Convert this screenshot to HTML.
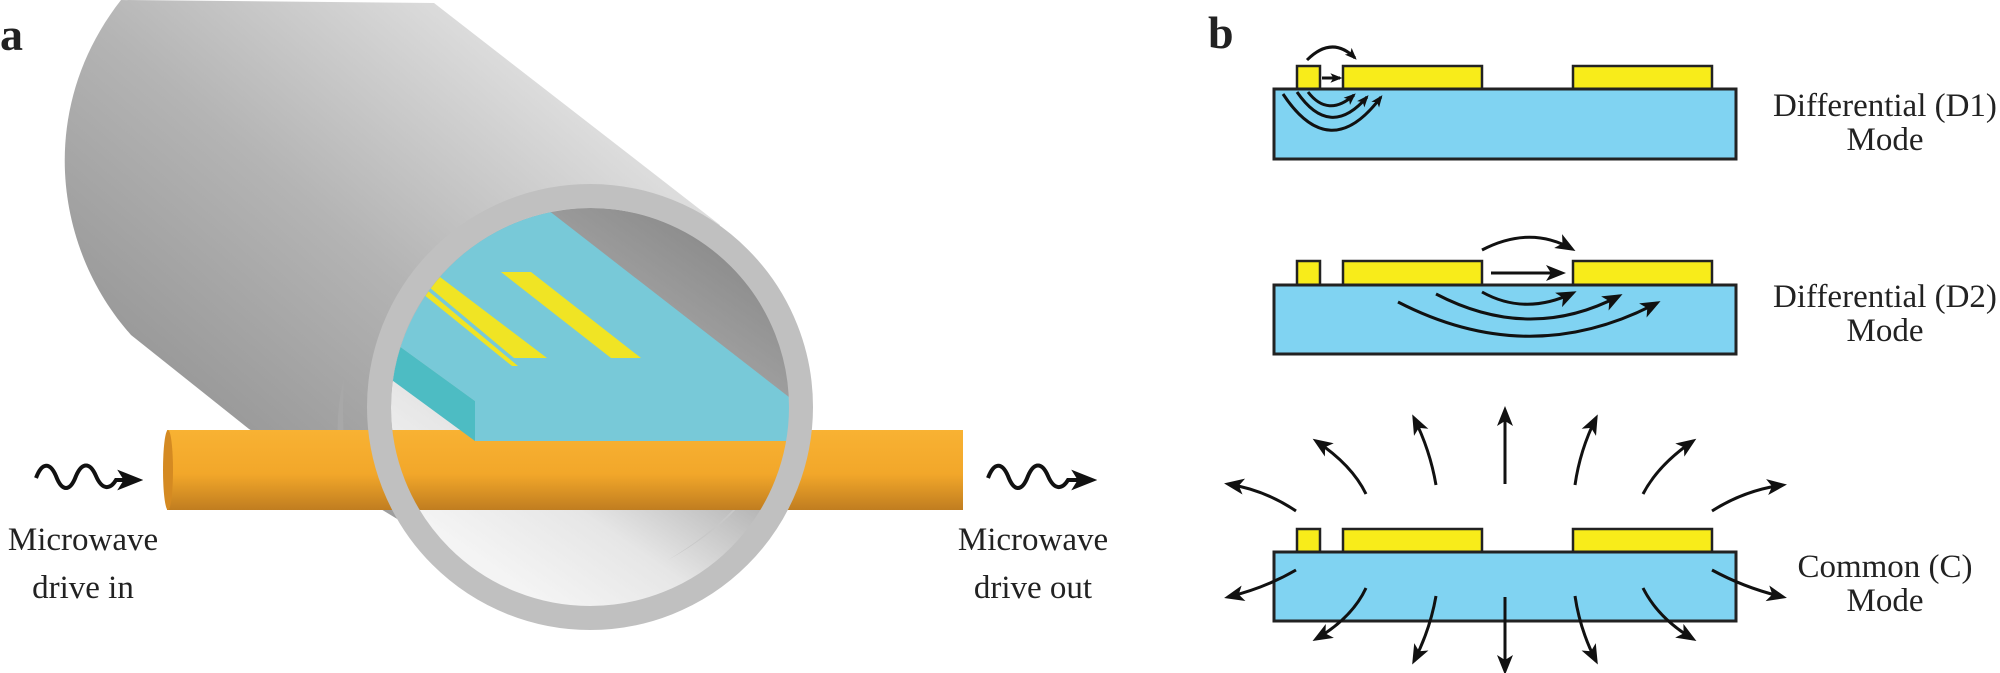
<!DOCTYPE html>
<html><head><meta charset="utf-8"><style>
html,body{margin:0;padding:0;background:#fff;}
svg{display:block;}
</style></head><body>
<svg width="2000" height="673" viewBox="0 0 2000 673" xmlns="http://www.w3.org/2000/svg">
<defs>
<linearGradient id="body" x1="0.1" y1="0.9" x2="0.9" y2="0.1">
<stop offset="0" stop-color="#8c8c8c"/><stop offset="0.5" stop-color="#b4b4b4"/><stop offset="1" stop-color="#ececec"/></linearGradient>
<linearGradient id="inner" x1="0.8" y1="0.1" x2="0.25" y2="0.9">
<stop offset="0" stop-color="#8e8e8e"/><stop offset="0.45" stop-color="#b0b0b0"/><stop offset="0.75" stop-color="#e6e6e6"/><stop offset="1" stop-color="#f4f4f4"/></linearGradient>
<linearGradient id="rod" x1="0" y1="0" x2="0" y2="1">
<stop offset="0" stop-color="#f8b233"/><stop offset="0.55" stop-color="#f2a72a"/><stop offset="1" stop-color="#c07d20"/></linearGradient>
<clipPath id="ic"><circle cx="591" cy="408" r="200"/></clipPath>
<marker id="ah" viewBox="0 0 20 20" refX="16" refY="10" markerWidth="20" markerHeight="20" markerUnits="userSpaceOnUse" orient="auto">
<path d="M0,2 L20,10 L0,18 L5,10 Z" fill="#111"/></marker>
<marker id="aw" viewBox="0 0 20 20" refX="16" refY="10" markerWidth="26" markerHeight="26" markerUnits="userSpaceOnUse" orient="auto">
<path d="M0,2 L20,10 L0,18 L5,10 Z" fill="#111"/></marker>
<marker id="as" viewBox="0 0 20 20" refX="16" refY="10" markerWidth="12" markerHeight="12" markerUnits="userSpaceOnUse" orient="auto">
<path d="M0,2 L20,10 L0,18 L5,10 Z" fill="#111"/></marker>
</defs>

<g font-family="'Liberation Serif','DejaVu Serif',serif" fill="#222">
<text x="0" y="50" font-size="46" font-weight="bold">a</text>
<path d="M121,0 L434,3 L720,225 L620,420 L440,545 L249,429 L131,335 C55,250 35,110 121,0 Z" fill="url(#body)"/>
<circle cx="591" cy="408" r="200" fill="url(#inner)"/>
<path d="M344,378 Q328,440 352,506 Q340,440 344,378 Z" fill="#a8a8a8"/>
<path d="M668,560 Q740,520 768,465 Q735,520 668,560 Z" fill="#c8c8c8"/>
<rect x="167" y="430" width="796" height="80" fill="url(#rod)"/>
<ellipse cx="168" cy="470" rx="5" ry="40" fill="#d48a22"/>
<g clip-path="url(#ic)">
<path d="M548,210 L794,401 L475,401 L395,343 L380,250 L500,190 Z" fill="#78c9d8"/>
<path d="M395,343 L475,401 L475,441 L385,375 Z" fill="#4dbcc3"/>
<path d="M501,272 L531,272 L641,358 L611,358 Z" fill="#f0e424"/>
<path d="M429,287 L440,277 L547,358 L514,358 Z" fill="#f0e424"/>
<path d="M423,294 L427,290 L518,366 L512,366 Z" fill="#f0e424"/>
</g>
<rect x="475" y="401" width="319" height="40" fill="#78c9d8"/>
<circle cx="590" cy="407" r="211" fill="none" stroke="#c0c0c0" stroke-width="24"/>
<path d="M36,478 C42,462 50,462 56,476 C62,492 70,492 76,476 C82,462 90,462 96,476 C102,490 110,490 116,480 L138,480" fill="none" stroke="#111" stroke-width="4" marker-end="url(#aw)"/>
<path d="M988,478 C994,462 1002,462 1008,476 C1014,492 1022,492 1028,476 C1034,462 1042,462 1048,476 C1054,490 1062,490 1068,480 L1092,480" fill="none" stroke="#111" stroke-width="4" marker-end="url(#aw)"/>
<text x="83" y="550" font-size="33" text-anchor="middle">Microwave</text>
<text x="83" y="598" font-size="33" text-anchor="middle">drive in</text>
<text x="1033" y="550" font-size="33" text-anchor="middle">Microwave</text>
<text x="1033" y="598" font-size="33" text-anchor="middle">drive out</text>

<text x="1208" y="48" font-size="46" font-weight="bold">b</text>
<g fill="#f8ec1a" stroke="#222" stroke-width="2.5">
<rect x="1297" y="66" width="23" height="23"/><rect x="1343" y="66" width="139" height="23"/><rect x="1573" y="66" width="139" height="23"/>
<rect x="1297" y="261" width="23" height="24"/><rect x="1343" y="261" width="139" height="24"/><rect x="1573" y="261" width="139" height="24"/>
<rect x="1297" y="529" width="23" height="23"/><rect x="1343" y="529" width="139" height="23"/><rect x="1573" y="529" width="139" height="23"/>
</g>
<g fill="#80d3f2" stroke="#222" stroke-width="3">
<rect x="1274" y="89" width="462" height="70"/>
<rect x="1274" y="285" width="462" height="69"/>
<rect x="1274" y="552" width="462" height="69"/>
</g>
<g fill="none" stroke="#111" stroke-width="3">
<path d="M1307,60 Q1332,35 1355,58" marker-end="url(#as)"/>
<path d="M1322,78 L1340,78" marker-end="url(#as)"/>
<path d="M1308,92 Q1328,118 1354,95" marker-end="url(#as)"/>
<path d="M1297,92 Q1330,140 1367,97" marker-end="url(#as)"/>
<path d="M1283,94 Q1330,165 1381,97" marker-end="url(#as)"/>
<path d="M1482,250 Q1530,225 1572,249" marker-end="url(#ah)"/>
<path d="M1491,273 L1562,273" marker-end="url(#ah)"/>
<path d="M1482,292 Q1525,316 1573,293" marker-end="url(#ah)"/>
<path d="M1436,294 Q1530,343 1619,296" marker-end="url(#ah)"/>
<path d="M1398,302 Q1530,370 1657,303" marker-end="url(#ah)"/>
<path d="M1296,511 Q1265,490 1228,484" marker-end="url(#ah)"/>
<path d="M1366,494 Q1352,465 1316,441" marker-end="url(#ah)"/>
<path d="M1436,485 Q1430,450 1414,418" marker-end="url(#ah)"/>
<path d="M1505,484 L1505,410" marker-end="url(#ah)"/>
<path d="M1575,485 Q1580,450 1596,418" marker-end="url(#ah)"/>
<path d="M1643,494 Q1658,465 1693,441" marker-end="url(#ah)"/>
<path d="M1712,511 Q1745,490 1783,485" marker-end="url(#ah)"/>
<path d="M1296,570 Q1265,588 1228,597" marker-end="url(#ah)"/>
<path d="M1366,588 Q1352,618 1316,639" marker-end="url(#ah)"/>
<path d="M1436,596 Q1430,630 1414,661" marker-end="url(#ah)"/>
<path d="M1505,597 L1505,671" marker-end="url(#ah)"/>
<path d="M1575,596 Q1580,630 1596,661" marker-end="url(#ah)"/>
<path d="M1643,588 Q1658,618 1693,639" marker-end="url(#ah)"/>
<path d="M1712,570 Q1745,588 1783,597" marker-end="url(#ah)"/>
</g>
<text x="1885" y="116" font-size="33" text-anchor="middle">Differential (D1)</text>
<text x="1885" y="150" font-size="33" text-anchor="middle">Mode</text>
<text x="1885" y="307" font-size="33" text-anchor="middle">Differential (D2)</text>
<text x="1885" y="341" font-size="33" text-anchor="middle">Mode</text>
<text x="1885" y="577" font-size="33" text-anchor="middle">Common (C)</text>
<text x="1885" y="611" font-size="33" text-anchor="middle">Mode</text>
</g>
</svg>
</body></html>
